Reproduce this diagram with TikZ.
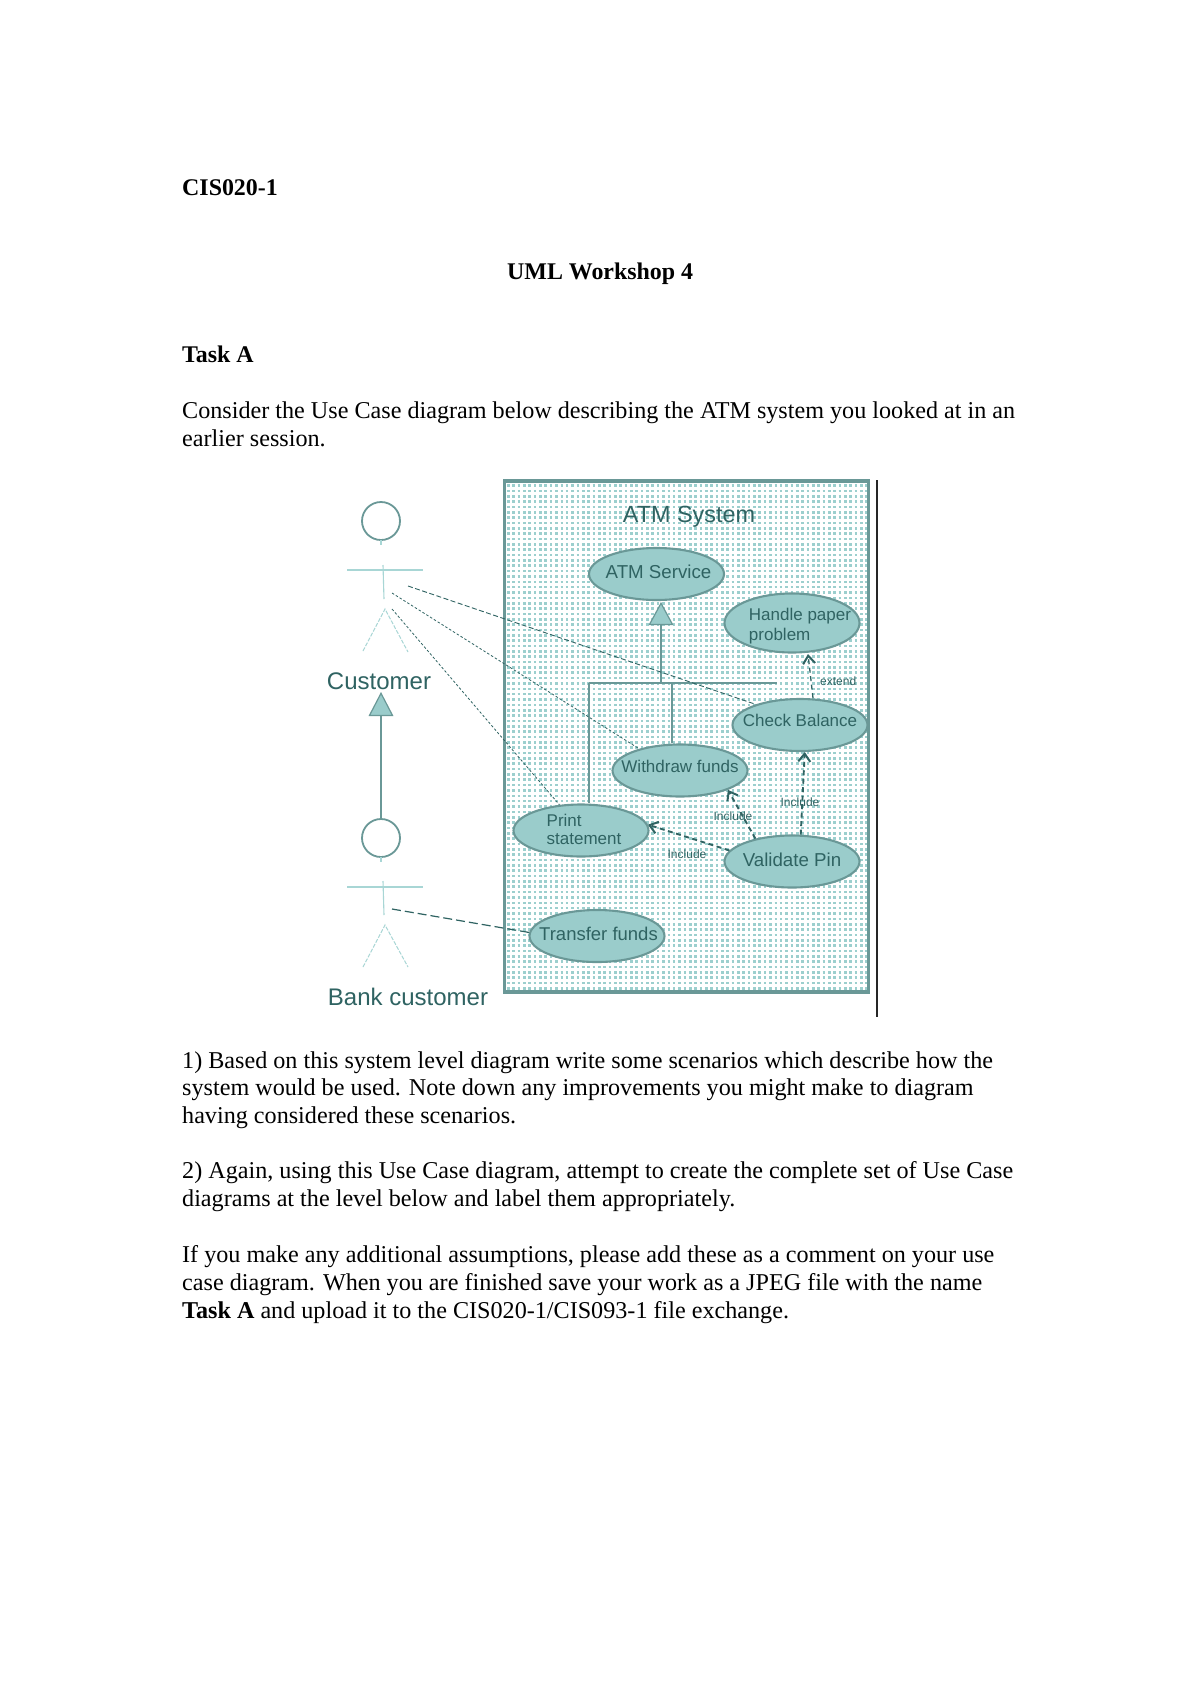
\documentclass[tikz,border=0pt]{standalone}
\usepackage{fontspec}
\setmainfont{Liberation Serif}
\setsansfont{Liberation Sans}
\usetikzlibrary{shapes.geometric,arrows.meta}
\definecolor{tealfill}{HTML}{9ACCCB}
\definecolor{tealdark}{HTML}{6A9897}
\definecolor{tealink}{HTML}{2F6362}
\definecolor{teallight}{HTML}{A8D6D5}
\definecolor{tealdot}{HTML}{9CCFCE}
\tikzset{
  x=1pt,y=-1pt,
  para/.style={anchor=base west,inner sep=0,font=\fontsize{24.15}{24.15}\selectfont},
  headline/.style={para,font=\bfseries\fontsize{23.9}{24}\selectfont},
  usecase/.style={ellipse,draw=tealdark,line width=2.1pt,fill=tealfill,minimum width=135pt,minimum height=52pt,inner sep=0},
  caselabel/.style={font=\sffamily\fontsize{17}{19.5}\selectfont,text=tealink,inner sep=0,align=left},
  biglabel/.style={font=\sffamily\fontsize{18.7}{21}\selectfont,text=tealink,inner sep=0},
  actorname/.style={font=\sffamily\fontsize{24}{26}\selectfont,text=tealink,inner sep=0},
  head/.style={circle,draw=tealdark,line width=1.8pt,fill=white,minimum size=38pt,inner sep=0},
  limb/.style={draw=teallight,line width=1.1pt},
  leg/.style={draw=teallight,line width=1pt,dash pattern=on 4pt off 1.5pt},
  assoc/.style={draw=tealink,line width=.9pt,dash pattern=on 5pt off 2.5pt},
  assocfine/.style={draw=tealink,line width=.8pt,dash pattern=on 2.5pt off 2pt},
  genline/.style={draw=tealdark,line width=1.8pt},
  gentip/.style={draw=tealdark,line width=1.2pt,fill=tealfill},
  depend/.style={draw=tealink,line width=1.9pt,dash pattern=on 5pt off 3.5pt,-{Straight Barb[length=8pt,width=12pt,line width=2pt]}},
  tiny/.style={font=\sffamily\fontsize{12}{12}\selectfont,text=tealink,inner sep=0},
}
\begin{document}
\begin{tikzpicture}
\useasboundingbox[fill=white] (0,0) rectangle (1200,1698);
% text
\node[headline] (t1) at (182,195) {CIS020-1};
\node[headline] (t2) at (507,279) {UML Workshop 4};
\node[headline] (t3) at (182,362) {Task A};
\node[para] (t4) at (182,418.5) {Consider the Use Case diagram below describing the ATM system you looked at in an};
\node[para] (t5) at (182,446) {earlier session.};
\node[para] (t6) at (182,1068) {1) Based on this system level diagram write some scenarios which describe how the};
\node[para] (t7) at (182,1095.5) {system would be used. Note down any improvements you might make to diagram};
\node[para] (t8) at (182,1123) {having considered these scenarios.};
\node[para] (t9) at (182,1178.5) {2) Again, using this Use Case diagram, attempt to create the complete set of Use Case};
\node[para] (t10) at (182,1206) {diagrams at the level below and label them appropriately.};
\node[para] (t11) at (182,1262) {If you make any additional assumptions, please add these as a comment on your use};
\node[para] (t12) at (182,1290) {case diagram. When you are finished save your work as a JPEG file with the name};
\node[para] (t13) at (182,1318) {\textbf{Task A} and upload it to the CIS020-1/CIS093-1 file exchange.};
% system box
\foreach \yy in {485.5,490.85,...,992}{
  \draw[tealdot,line width=2.6pt,dash pattern=on 2.6pt off 2.75pt] (507,\yy) -- (868,\yy);
}
\node[draw=tealdark,line width=3.2pt,minimum width=364pt,minimum height=511pt,inner sep=0] (system) at (686.5,736.5) {};
\coordinate (ruleTop) at (877,480);
\coordinate (ruleBot) at (877,1017);
\draw[black!85,line width=1.8pt] (ruleTop) -- (ruleBot);
\node[font=\sffamily\fontsize{23.4}{26}\selectfont,text=tealink,inner sep=0] (title) at (689,517) {ATM System};
% use cases
\node[usecase,label={[biglabel,xshift=2pt,yshift=2pt]center:ATM Service}] (atm) at (656.5,574) {};
\node[usecase,minimum height=59pt,label={[caselabel,xshift=8pt,yshift=-3pt]center:Handle paper\\problem}] (paper) at (792,623) {};
\node[usecase,label={[caselabel,yshift=5pt]center:Check Balance}] (check) at (800,725) {};
\node[usecase,label={[caselabel,yshift=4.5pt]center:Withdraw funds}] (withdraw) at (680,770.5) {};
\node[usecase,label={[caselabel,xshift=3pt,yshift=1pt,font=\sffamily\fontsize{17}{18.5}\selectfont]center:Print\\statement}] (print) at (581,830.5) {};
\node[usecase,label={[biglabel,yshift=2pt]center:Validate Pin}] (validate) at (792,861.5) {};
\node[usecase,label={[biglabel,font=\sffamily\fontsize{18.5}{21}\selectfont,xshift=1.5pt,yshift=2pt]center:Transfer funds}] (transfer) at (597,936) {};
% generalisation tree
\node[isosceles triangle,isosceles triangle apex angle=57,shape border rotate=90,gentip,minimum width=23pt,minimum height=21pt,inner sep=0,anchor=apex] (gtip) at (661,602) {};
\coordinate (busL) at (589,683);
\coordinate (busR) at (777,683);
\coordinate (busA) at (661,683);
\coordinate (busW) at (672,683);
\draw[genline] (gtip.south) -- (busA);
\draw[genline] (busL) -- (busR);
\draw[genline] (busL) -- (print.north -| busL);
\draw[genline] (busW) -- (withdraw.north -| busW);
% customer
\node[head] (chead) at (381,521) {};
\coordinate (cneck) at (381,545);
\coordinate (carmL) at (347,570);
\coordinate (carmR) at (423,570);
\coordinate (cbodyT) at (383,565);
\coordinate (cbodyB) at (384,599);
\coordinate (chip) at (385,609);
\coordinate (clegL) at (363,651);
\coordinate (clegR) at (408,652);
\draw[limb] (chead) ++(0,19) -- (cneck);
\draw[limb] (carmL) -- (carmR);
\draw[limb] (cbodyT) -- (cbodyB);
\draw[leg] (clegL) -- (chip) -- (clegR);
\node[actorname] (cname) at (379,681) {Customer};
% bank customer
\node[head] (bhead) at (381,838) {};
\coordinate (bneck) at (381,862);
\coordinate (barmL) at (347,887);
\coordinate (barmR) at (423,887);
\coordinate (bbodyT) at (383,881);
\coordinate (bbodyB) at (384,915);
\coordinate (bhip) at (385,925);
\coordinate (blegL) at (363,967);
\coordinate (blegR) at (408,967);
\draw[limb] (bhead) ++(0,19) -- (bneck);
\draw[limb] (barmL) -- (barmR);
\draw[limb] (bbodyT) -- (bbodyB);
\draw[leg] (blegL) -- (bhip) -- (blegR);
\node[actorname] (bname) at (408,997) {Bank customer};
% actor generalisation
\node[isosceles triangle,isosceles triangle apex angle=55,shape border rotate=90,gentip,minimum width=23pt,minimum height=22pt,inner sep=0,anchor=apex] (atip) at (381,692) {};
\draw[genline] (atip.south) -- (bhead.north);
% associations
\coordinate (c1) at (408,586);
\coordinate (c2) at (392,593);
\coordinate (c3) at (392,609);
\coordinate (b1) at (392,909);
\draw[assoc] (c1) -- (check.155);
\draw[assocfine] (c2) -- (withdraw.152);
\draw[assocfine] (c3) -- (print.130);
\draw[assoc,line width=1.2pt,dash pattern=on 9pt off 4pt] (b1) -- (transfer.177);
% dependencies
\coordinate (uA) at (808,654);
\coordinate (uB) at (813,698);
\draw[depend,line width=1.3pt] (uB) -- (uA);
\draw[depend] (validate.72) -- (check.-80);
\draw[depend] (validate.148) -- (withdraw.-22.5);
\draw[depend] (validate.170) -- (print.5);
\node[tiny,anchor=west] (lext) at (820,681) {extend};
\node[tiny] (linc1) at (800,802) {Include};
\node[tiny] (linc2) at (687,854) {Include};
\node[tiny] (linc3) at (733,816) {Include};
\end{tikzpicture}
\end{document}
